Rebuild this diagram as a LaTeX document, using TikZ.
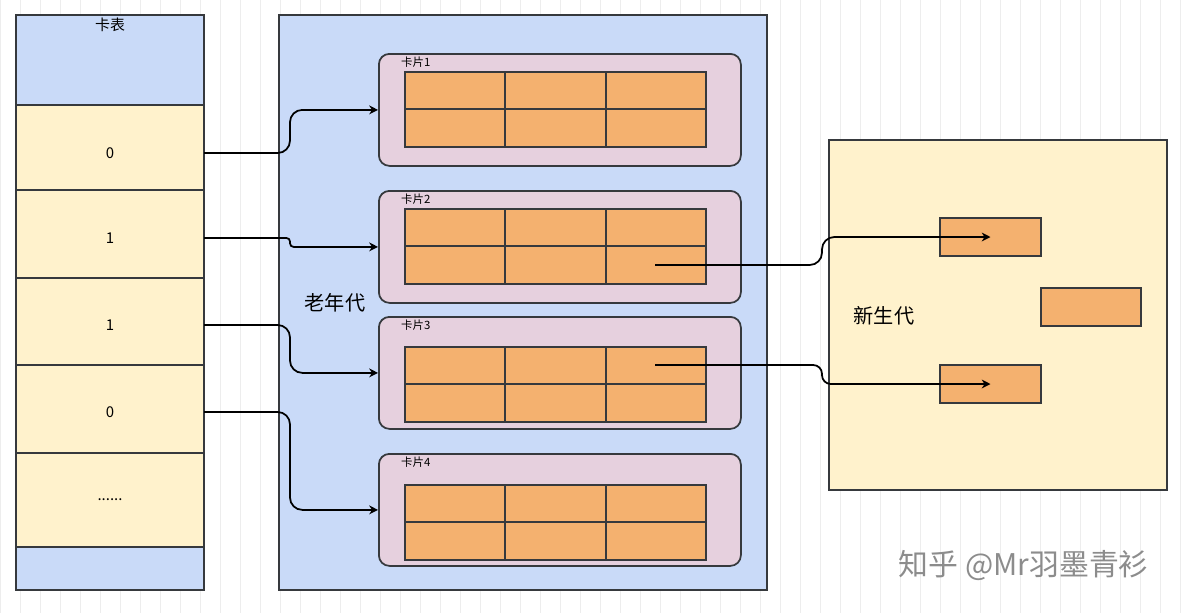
\documentclass[tikz,border=0pt]{standalone}
\usepackage{fontspec}
\setmainfont{Noto Sans CJK SC}
\usetikzlibrary{arrows.meta}
\definecolor{bl}{HTML}{C9DAF8}
\definecolor{ye}{HTML}{FFF2CC}
\definecolor{pk}{HTML}{E6D0DE}
\definecolor{og}{HTML}{F4B16F}
\definecolor{ln}{HTML}{36393D}
\newcommand{\sixdots}{......}
\begin{document}
\begin{tikzpicture}[x=0.02cm,y=-0.02cm,
  box/.style={draw=ln,line width=0.9pt},
  card/.style={draw=ln,line width=1pt,fill=pk,rounded corners=6pt,minimum width=362*0.02cm,minimum height=112*0.02cm,anchor=north west},
  arr/.style={line width=1pt,rounded corners=7pt,-{Stealth[length=5pt,width=5pt]}},
  lab/.style={font=\fontsize{8.5}{9}\selectfont},
  small/.style={font=\fontsize{6.5}{7}\selectfont}]
\useasboundingbox (0,0) rectangle (1181,613);
\fill[white] (0,0) rectangle (1181,613);
\draw[black!7,step=20] (0,0) grid (1181,613);
% card table
\draw[box,fill=bl] (16,15) rectangle (204,590);
\node[lab] at (110,25) {卡表};
\foreach \i/\a/\b/\m/\t in {0/105/190/153/0,1/190/278/238/1,2/278/365/325/1,3/365/453/412/0,4/453/547/500/\sixdots}{
  \draw[box,fill=ye] (16,\a) rectangle (204,\b);
  \node[lab] at (110,\m) {\t};
  \coordinate (r\i) at (204,\m);
}
% old gen
\draw[box,fill=bl] (279,15) rectangle (767,590);
\node[font=\fontsize{11.5}{12}\selectfont] (old) at (335,303) {老年代};
\foreach \i/\y/\g in {1/53/72,2/190/209,3/316/347,4/453/485}{
  \node[card] (c\i) at (378,\y) {};
  \node[small,anchor=west] at (395,\y+9) {卡片\i};
  \draw[box,fill=og] (405,\g) rectangle (706,\g+75);
  \draw[box] (505,\g) -- (505,\g+75) (606,\g) -- (606,\g+75) (405,\g+37) -- (706,\g+37);
}
% new gen
\draw[box,fill=ye] (829,140) rectangle (1167,490);
\node[font=\fontsize{11.5}{12}\selectfont] (new) at (884,316) {新生代};
\node[box,fill=og,minimum width=101*0.02cm,minimum height=38*0.02cm] (n1) at (990.5,237) {};
\node[box,fill=og,minimum width=100*0.02cm,minimum height=38*0.02cm] (n2) at (1091,307) {};
\node[box,fill=og,minimum width=101*0.02cm,minimum height=38*0.02cm] (n3) at (990.5,384) {};
\coordinate (s2) at (655,265);
\coordinate (s3) at (655,365);
% arrows
\draw[arr] (r0) -- ++(86,0) |- (c1.west);
\draw[arr,rounded corners=2pt] (r1) -- ++(86,0) |- (c2.west);
\draw[arr] (r2) -- ++(86,0) |- (c3.west);
\draw[arr] (r3) -- ++(86,0) |- (c4.west);
\draw[arr] (s2) -- ++(167,0) |- (n1.center);
\draw[arr,rounded corners=5pt] (s3) -- ++(167,0) |- (n3.center);
\node[text=black!45,font=\fontsize{17}{20}\selectfont,anchor=east] at (1155,566) {知乎 @Mr羽墨青衫};
\end{tikzpicture}
\end{document}
